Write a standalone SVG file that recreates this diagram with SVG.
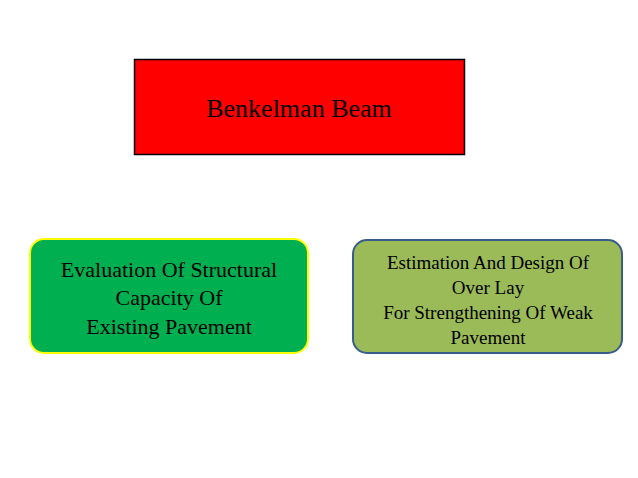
<svg xmlns="http://www.w3.org/2000/svg" width="638" height="478" viewBox="0 0 638 478">
<style>
text{font-family:"Liberation Serif","Times New Roman",serif;text-anchor:middle;fill:#000}
</style>
<rect width="638" height="478" fill="#fff"/>
<g id="benkelman">
<rect x="134.5" y="59.5" width="330" height="95" fill="#ff0000" stroke="#000" stroke-width="1.5"/>
<text x="299" y="117" font-size="26">Benkelman Beam</text>
</g>
<g id="evaluation">
<rect x="30" y="239" width="278" height="114" rx="14" fill="#00b050" stroke="#ffff00" stroke-width="2"/>
<text font-size="22"><tspan x="169" y="277">Evaluation Of Structural</tspan><tspan x="169" y="305">Capacity Of</tspan><tspan x="169" y="334">Existing Pavement</tspan></text>
</g>
<g id="estimation">
<rect x="353" y="240" width="269" height="113" rx="14" fill="#9bbb59" stroke="#385d8a" stroke-width="2"/>
<text font-size="19"><tspan x="488" y="269">Estimation And Design Of</tspan><tspan x="488" y="294">Over Lay</tspan><tspan x="488" y="319">For Strengthening Of Weak</tspan><tspan x="488" y="344">Pavement</tspan></text>
</g>
<g id="connectors"></g>
</svg>
